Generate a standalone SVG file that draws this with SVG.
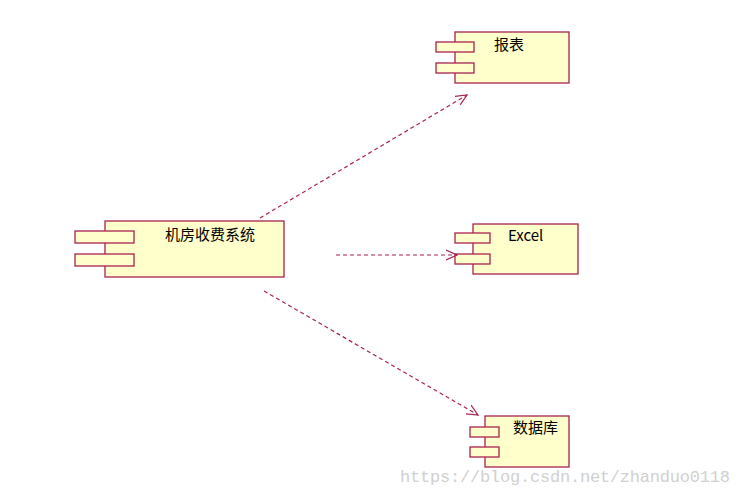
<svg xmlns="http://www.w3.org/2000/svg" width="741" height="495" viewBox="0 0 741 495">
<style>
.b{fill:#ffffcc;stroke:#a8224f;stroke-width:1.3}
.t{font-family:"Noto Sans CJK SC","Liberation Sans",sans-serif;font-size:15px;fill:#000}
.c{fill:none;stroke:#a8224f;stroke-width:1.2;stroke-dasharray:4,3}
</style>
<defs><marker id="a" markerWidth="12" markerHeight="12" refX="11" refY="6" orient="auto" markerUnits="userSpaceOnUse"><path d="M0,1 L11,6 L0,11" fill="none" stroke="#a8224f" stroke-width="1.2"/></marker></defs>
<rect width="741" height="495" fill="#fff"/>
<g id="main"><rect class="b" x="105" y="221" width="179" height="56"/><rect class="b" x="75" y="231" width="59" height="12"/><rect class="b" x="75" y="254" width="59" height="12"/><text class="t" x="165" y="240">机房收费系统</text></g>
<g id="baobiao"><rect class="b" x="455" y="32" width="114" height="51"/><rect class="b" x="436" y="42" width="38" height="10"/><rect class="b" x="436" y="63" width="38" height="10"/><text class="t" x="494" y="50">报表</text></g>
<g id="excel"><rect class="b" x="473" y="224" width="105" height="50"/><rect class="b" x="455" y="233" width="35" height="10"/><rect class="b" x="455" y="254" width="35" height="10"/><text class="t" x="508" y="241">Excel</text></g>
<g id="db"><rect class="b" x="485" y="416" width="84" height="51"/><rect class="b" x="470" y="427" width="29" height="10"/><rect class="b" x="470" y="447" width="29" height="10"/><text class="t" x="513" y="433">数据库</text></g>
<g id="connectors">
<path class="c" d="M260,218 L467,95" marker-end="url(#a)"/>
<path class="c" d="M336,255 L457,255" marker-end="url(#a)"/>
<path class="c" d="M264,291 L478,415" marker-end="url(#a)"/>
</g>
<text x="400" y="482" font-family="Liberation Mono,monospace" font-size="17" textLength="330" fill="#d0d0d0">https://blog.csdn.net/zhanduo0118</text>
</svg>
